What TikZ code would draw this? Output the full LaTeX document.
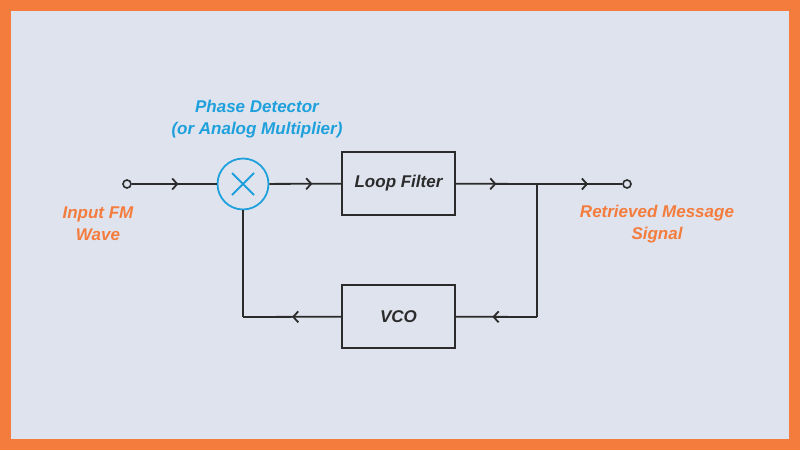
\documentclass[tikz,border=0pt]{standalone}
\usepackage{fontspec}
\setmainfont{Liberation Sans}
\usetikzlibrary{arrows.meta,decorations.markings}
\definecolor{bg}{HTML}{DFE3EE}
\definecolor{fr}{HTML}{F47C3C}
\definecolor{bl}{HTML}{1EA0DC}
\definecolor{ln}{HTML}{2B2B2B}
\tikzset{
 wire/.style={draw=ln,line width=1.8pt},
 mk/.style={postaction={decorate},decoration={markings,mark=at position #1 with {\arrow{Straight Barb[length=5pt,width=11pt,line width=1.8pt]}}}},
 box/.style={draw=ln,line width=1.8pt,minimum width=113pt,minimum height=63pt,font=\bfseries\itshape\fontsize{17}{20}\selectfont,text=ln},
 lbl/.style={font=\bfseries\itshape\fontsize{17}{22}\selectfont,align=center},
 term/.style={circle,draw=ln,line width=1.6pt,fill=bg,inner sep=0pt,minimum size=8pt}
}
\begin{document}
\begin{tikzpicture}[x=1pt,y=-1pt]
\fill[fr] (0,0) rectangle (800,450);
\fill[bg] (11,11) rectangle (789,439);
\useasboundingbox (0,0) rectangle (800,450);
\node[term] (in) at (127,184) {};
\node[term] (out) at (627,184) {};
\node[circle,draw=bl,line width=1.8pt,minimum size=51pt,inner sep=0pt] (mx) at (243,184) {};
\draw[bl,line width=1.8pt] ([shift={(-11,-11)}]mx.center) -- ([shift={(11,11)}]mx.center) ([shift={(-11,11)}]mx.center) -- ([shift={(11,-11)}]mx.center);
\node[box] (lf) at (398.5,183.5) {Loop Filter};
\node[box] (vco) at (398.5,316.5) {VCO};
\coordinate (j) at (537,184);
\coordinate (jb) at (537,317);
\coordinate (mb) at (243,317);
\draw[wire,mk=0.55] (in) -- (mx);
\draw[wire,mk=0.6] (mx) -- (lf);
\draw[wire,mk=0.5] (lf) -- (j);
\draw[wire,mk=0.6] (j) -- (out);
\draw[wire] (j) -- (jb);
\draw[wire,mk=0.55] (jb) -- (vco);
\draw[wire,mk=0.5] (vco) -- (mb);
\draw[wire] (mb) -- (mx);
\node[lbl,text=bl] (pd) at (257,119) {Phase Detector\\(or Analog Multiplier)};
\node[lbl,text=fr] (ifm) at (98,224) {Input FM\\Wave};
\node[lbl,text=fr] (rms) at (657,224) {Retrieved Message\\Signal};
\end{tikzpicture}
\end{document}
